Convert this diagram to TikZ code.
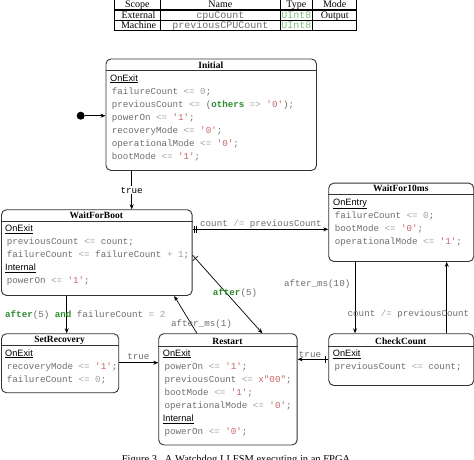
\documentclass[tikz,border=0pt]{standalone}
\usepackage{fontspec}
\setmainfont{Liberation Serif}
\setsansfont{Liberation Sans}
\setmonofont{Liberation Mono}
\usetikzlibrary{arrows.meta,calc}
\definecolor{codec}{HTML}{6E6E6E}
\definecolor{opc}{HTML}{A0A0A0}
\definecolor{strc}{HTML}{C86464}
\definecolor{kwc}{HTML}{2D8A2D}
\definecolor{typec}{HTML}{7FBF7F}
\definecolor{boxc}{HTML}{333333}
\newcommand\fsec[1]{{\sffamily\underline{#1}}}
\newcommand\fcode[1]{\hspace*{1.7pt}{\ttfamily\color{codec}#1}}
\newcommand\fop[1]{\textcolor{opc}{#1}}
\newcommand\fstr[1]{\textcolor{strc}{#1}}
\newcommand\fkw[1]{\textcolor{kwc}{\bfseries #1}}
\newcommand\boxlines[4]{%
  \foreach \t [count=\i from 0] in {#4} {\node[txt, anchor=base west] (#1l\i) at (#2, #3+13.1*\i) {\t};}}
\tikzset{
  statebox/.style={draw=boxc, line width=0.9pt, rounded corners=5pt, inner sep=0pt, anchor=north west},
  ttl/.style={inner sep=0pt, font=\fontsize{9.5}{11}\selectfont\bfseries},
  txt/.style={inner sep=0pt, font=\fontsize{9.2}{11}\selectfont},
  lbl/.style={inner sep=0pt, font=\fontsize{9.2}{11}\selectfont\ttfamily\color{codec}},
  arr/.style={-{Stealth[length=5pt,width=4pt]}, line width=0.7pt, black},
  prio/.style={draw, line width=0.6pt, inner sep=0pt, minimum width=0pt, minimum height=7pt, sloped},
  tabtxt/.style={inner sep=0pt, font=\fontsize{10}{12}\selectfont, anchor=base},
  tline/.style={line width=0.5pt, black},
}
\begin{document}
\begin{tikzpicture}[x=1pt,y=-1pt]
\useasboundingbox (0,0) rectangle (474,459);
% ---------- table ----------
\draw[tline] (114,-1) -- (356.7,-1);
\draw[tline] (114,8.8) -- (356.7,8.8);
\draw[tline] (114,10.2) -- (356.7,10.2);
\draw[tline] (114,20) -- (356.7,20);
\draw[tline] (114,30.7) -- (356.7,30.7);
\foreach \xx in {114,160.7,280,312.7,356.7} {\draw[tline] (\xx,-1) -- (\xx,30.7);}
\node[tabtxt] (th1) at (137.3,7) {Scope};
\node[tabtxt] (th2) at (220.3,7) {Name};
\node[tabtxt] (th3) at (296.3,7) {Type};
\node[tabtxt] (th4) at (334.7,7) {Mode};
\node[tabtxt] (tr1) at (138.5,18) {External};
\node[tabtxt] (tr2) at (220.3,18) {\ttfamily\color{codec}cpuCount};
\node[tabtxt] (tr3) at (296.3,18) {\ttfamily\color{typec}UInt8};
\node[tabtxt] (tr4) at (334.7,18) {Output};
\node[tabtxt] (ts1) at (138.5,28.7) {Machine};
\node[tabtxt] (ts2) at (220.3,28.7) {\ttfamily\color{codec}previousCPUCount};
\node[tabtxt] (ts3) at (296.3,28.7) {\ttfamily\color{typec}UInt8};
% ---------- states ----------
% Initial
\node[statebox, minimum width=210.5pt, minimum height=111.5pt] (init) at (105.5,58.5) {};
\node[ttl] (initt) at (210.75,65) {Initial};
\draw[boxc, line width=0.8pt] ($(init.north west)+(0,12)$) -- ($(init.north east)+(0,12)$);
\boxlines{init}{110}{81}{{\fsec{OnExit}},
 {\fcode{failureCount \fop{<=} \fop{0};}},
 {\fcode{previousCount \fop{<=} (\fkw{others} \fop{=>} \fstr{'0'});}},
 {\fcode{powerOn \fop{<=} \fstr{'1'};}},
 {\fcode{recoveryMode \fop{<=} \fstr{'0'};}},
 {\fcode{operationalMode \fop{<=} \fstr{'0'};}},
 {\fcode{bootMode \fop{<=} \fstr{'1'};}}}
% WaitForBoot
\node[statebox, minimum width=190.7pt, minimum height=85.7pt] (wfb) at (1,209.3) {};
\node[ttl] (wfbt) at (96.3,215) {WaitForBoot};
\draw[boxc, line width=0.8pt] ($(wfb.north west)+(0,12.2)$) -- ($(wfb.north east)+(0,12.2)$);
\boxlines{wfb}{5}{231.5}{{\fsec{OnExit}},
 {\fcode{previousCount \fop{<=} count;}},
 {\fcode{failureCount \fop{<=} failureCount \fop{+ 1};}},
 {\fsec{Internal}},
 {\fcode{powerOn \fop{<=} \fstr{'1'};}}}
% WaitFor10ms
\node[statebox, minimum width=145pt, minimum height=78.3pt] (w10) at (328.3,182.7) {};
\node[ttl] (w10t) at (400.8,188.3) {WaitFor10ms};
\draw[boxc, line width=0.8pt] ($(w10.north west)+(0,11.3)$) -- ($(w10.north east)+(0,11.3)$);
\boxlines{w10}{333}{205}{{\fsec{OnEntry}},
 {\fcode{failureCount \fop{<=} \fop{0};}},
 {\fcode{bootMode \fop{<=} \fstr{'0'};}},
 {\fcode{operationalMode \fop{<=} \fstr{'1'};}}}
% SetRecovery
\node[statebox, minimum width=117.3pt, minimum height=59pt] (sr) at (1,333.3) {};
\node[ttl] (srt) at (59.6,340) {SetRecovery};
\draw[boxc, line width=0.8pt] ($(sr.north west)+(0,12.4)$) -- ($(sr.north east)+(0,12.4)$);
\boxlines{sr}{5}{356}{{\fsec{OnExit}},
 {\fcode{recoveryMode \fop{<=} \fstr{'1'};}},
 {\fcode{failureCount \fop{<=} \fop{0};}}}
% Restart
\node[statebox, minimum width=138.4pt, minimum height=111.2pt] (rst) at (158.3,333.3) {};
\node[ttl] (rstt) at (227.5,341.5) {Restart};
\draw[boxc, line width=0.8pt] ($(rst.north west)+(0,13.4)$) -- ($(rst.north east)+(0,13.4)$);
\boxlines{rst}{162.7}{356}{{\fsec{OnExit}},
 {\fcode{powerOn \fop{<=} \fstr{'1'};}},
 {\fcode{previousCount \fop{<=} \fstr{x"00"};}},
 {\fcode{bootMode \fop{<=} \fstr{'1'};}},
 {\fcode{operationalMode \fop{<=} \fstr{'0'};}},
 {\fsec{Internal}},
 {\fcode{powerOn \fop{<=} \fstr{'0'};}}}
% CheckCount
\node[statebox, minimum width=145pt, minimum height=51.7pt] (cc) at (328.3,333.3) {};
\node[ttl] (cct) at (400.8,341.5) {CheckCount};
\draw[boxc, line width=0.8pt] ($(cc.north west)+(0,13.4)$) -- ($(cc.north east)+(0,13.4)$);
\boxlines{cc}{332.7}{356.6}{{\fsec{OnExit}},
 {\fcode{previousCount \fop{<=} count;}}}
% ---------- helper coordinates ----------
\coordinate (xa) at (131.7,0);
\coordinate (xb) at (66.7,0);
\coordinate (xc) at (355,0);
\coordinate (xd) at (446.7,0);
\coordinate (ya) at (0,229.3);
\coordinate (yb) at (0,362.7);
\coordinate (yc) at (0,359.3);
\coordinate (ye) at (0,115.7);
% ---------- initial pseudo state ----------
\node[circle, fill=black, inner sep=0pt, minimum size=8pt] (dot) at (80.7,115.7) {};
\draw[arr] (dot) -- (init.west |- ye);
% ---------- transitions ----------
\draw[arr] (init.south -| xa) -- node[lbl, fill=white, inner sep=1pt] (t1) {true} (wfb.north -| xa);
\draw[arr] (wfb.east |- ya) -- (w10.west |- ya);
\draw[line width=0.6pt] (194,225.8) -- (194,232.8) (196.7,225.8) -- (196.7,232.8);
\node[lbl, anchor=base west] (t2) at (200,226) {count \fop{/=} previousCount};
\coordinate (wfbr) at ($(wfb.north east)!0.53!(wfb.south east)$);
\coordinate (rstn1) at ($(rst.north west)!0.747!(rst.north east)$);
\draw[arr] (wfbr) -- node[prio, pos=0.04] (p1) {} (rstn1);
\node[lbl] (t3) at (235,293.3) {\fkw{after}(5)};
\coordinate (rstn2) at ($(rst.north west)!0.277!(rst.north east)$);
\coordinate (wfbs) at ($(wfb.south west)!0.904!(wfb.south east)$);
\draw[arr] (rstn2) -- (wfbs);
\node[lbl] (t4) at (201.5,324) {after\_ms(1)};
\draw[arr] (wfb.south -| xb) -- (sr.north -| xb);
\node[lbl, anchor=base west] (t5) at (5,317) {\fkw{after}(5) \fkw{and} failureCount \fop{= 2}};
\draw[arr] (sr.east |- yb) -- (rst.west |- yb);
\node[lbl] (t6) at (138.3,356.3) {true};
\draw[arr] (cc.west |- yc) -- (rst.east |- yc);
\draw[line width=0.6pt] (325,355.8) -- (325,362.8);
\node[lbl] (t7) at (310,354) {true};
\draw[arr] (w10.south -| xc) -- (cc.north -| xc);
\node[lbl, anchor=base east] (t8) at (350.5,286.5) {after\_ms(10)};
\draw[arr] (cc.north -| xd) -- (w10.south -| xd);
\node[lbl, anchor=base west] (t9) at (347.5,316.5) {count \fop{/=} previousCount};
% ---------- caption (cut) ----------
\node[inner sep=0pt, anchor=base, font=\fontsize{10.5}{12}\selectfont] (cap) at (236,462) {Figure 3.\ \ A Watchdog LLFSM executing in an FPGA};
\end{tikzpicture}
\end{document}
